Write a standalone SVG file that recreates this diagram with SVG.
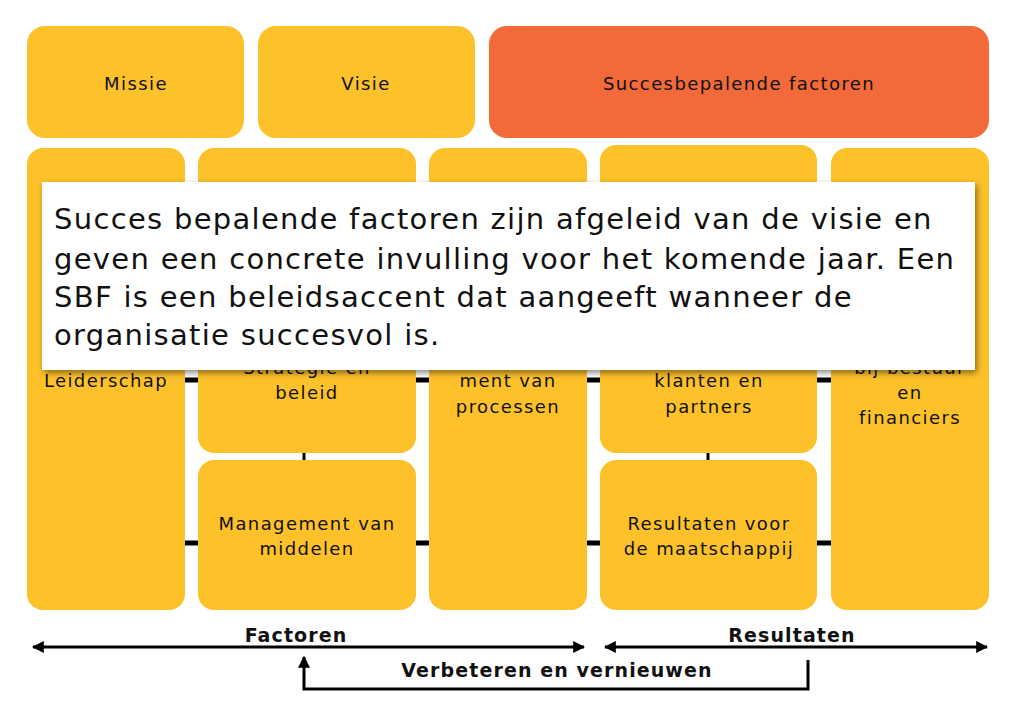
<svg xmlns="http://www.w3.org/2000/svg" width="1024" height="709" viewBox="0 0 1024 709">
<defs>
<style>
.b{fill:#FDC12A}
.o{fill:#F26A3A}
text{font-family:"DejaVu Sans",Verdana,sans-serif;fill:#111}
.t{font-size:18px;text-anchor:middle;letter-spacing:1.4px}
.lb{font-size:19px;font-weight:bold;text-anchor:middle;letter-spacing:1.1px}
.pop{font-size:29px;letter-spacing:1.3px}
.c{stroke:#000;stroke-width:5}
.a{stroke:#000;stroke-width:3;fill:none}
</style>
<marker id="ah" viewBox="0 0 10 10" refX="9" refY="5" markerWidth="4" markerHeight="4" orient="auto-start-reverse"><path d="M0,0L10,5L0,10z" fill="#000"/></marker>
<filter id="sh" x="-5%" y="-5%" width="110%" height="115%"><feDropShadow dx="2" dy="3" stdDeviation="3" flood-opacity="0.45"/></filter>
</defs>
<rect width="1024" height="709" fill="#fff"/>
<g id="missie"><rect class="b" x="27" y="26" width="217" height="112" rx="18"/><text class="t" x="136" y="90">Missie</text></g>
<g id="visie"><rect class="b" x="258" y="26" width="217" height="112" rx="18"/><text class="t" x="366" y="90">Visie</text></g>
<g id="sbf"><rect class="o" x="489" y="26" width="500" height="112" rx="18"/><text class="t" x="739" y="90">Succesbepalende factoren</text></g>
<g id="connectors">
<line class="c" x1="185" y1="380" x2="198" y2="380"/><line class="c" x1="416" y1="380" x2="429" y2="380"/><line class="c" x1="587" y1="380" x2="600" y2="380"/><line class="c" x1="817" y1="380" x2="831" y2="380"/>
<line class="c" x1="185" y1="543" x2="198" y2="543"/><line class="c" x1="416" y1="543" x2="429" y2="543"/><line class="c" x1="587" y1="543" x2="600" y2="543"/><line class="c" x1="817" y1="543" x2="831" y2="543"/>
<line stroke="#000" stroke-width="3" x1="304" y1="453" x2="304" y2="460"/><line stroke="#000" stroke-width="3" x1="708" y1="453" x2="708" y2="460"/>
<line class="a" x1="33" y1="647" x2="584" y2="647" marker-start="url(#ah)" marker-end="url(#ah)"/>
<line class="a" x1="605" y1="647" x2="987" y2="647" marker-start="url(#ah)" marker-end="url(#ah)"/>
<path class="a" d="M808,660V689H304V657" marker-end="url(#ah)"/>
</g>
<g id="leiderschap"><rect class="b" x="27" y="148" width="158" height="462" rx="16"/><text class="t" x="106" y="387">Leiderschap</text></g>
<g id="strategie"><rect class="b" x="198" y="148" width="218" height="305" rx="16"/><text class="t" x="307" y="374">Strategie en</text><text class="t" x="307" y="399">beleid</text></g>
<g id="middelen"><rect class="b" x="198" y="460" width="218" height="150" rx="16"/><text class="t" x="307" y="530">Management van</text><text class="t" x="307" y="555">middelen</text></g>
<g id="processen"><rect class="b" x="429" y="148" width="158" height="462" rx="16"/><text class="t" x="508" y="387">ment van</text><text class="t" x="508" y="413">processen</text></g>
<g id="klanten"><rect class="b" x="600" y="145" width="217" height="308" rx="16"/><text class="t" x="709" y="387">klanten en</text><text class="t" x="709" y="413">partners</text></g>
<g id="maatschappij"><rect class="b" x="600" y="460" width="217" height="150" rx="16"/><text class="t" x="709" y="530">Resultaten voor</text><text class="t" x="709" y="555">de maatschappij</text></g>
<g id="bestuur"><rect class="b" x="831" y="148" width="158" height="462" rx="16"/><text class="t" x="910" y="374">bij bestuur</text><text class="t" x="910" y="399">en</text><text class="t" x="910" y="424">financiers</text></g>
<g id="labels"><text class="lb" x="296" y="642">Factoren</text><text class="lb" x="792" y="642">Resultaten</text><text class="lb" x="557" y="677">Verbeteren en vernieuwen</text></g>
<g id="popup"><rect x="42" y="182" width="933" height="188" fill="#fff" filter="url(#sh)"/>
<text class="pop" x="54" y="229">Succes bepalende factoren zijn afgeleid van de visie en</text>
<text class="pop" x="54" y="269">geven een concrete invulling voor het komende jaar. Een</text>
<text class="pop" x="54" y="307">SBF is een beleidsaccent dat aangeeft wanneer de</text>
<text class="pop" x="54" y="345">organisatie succesvol is.</text></g>
</svg>
